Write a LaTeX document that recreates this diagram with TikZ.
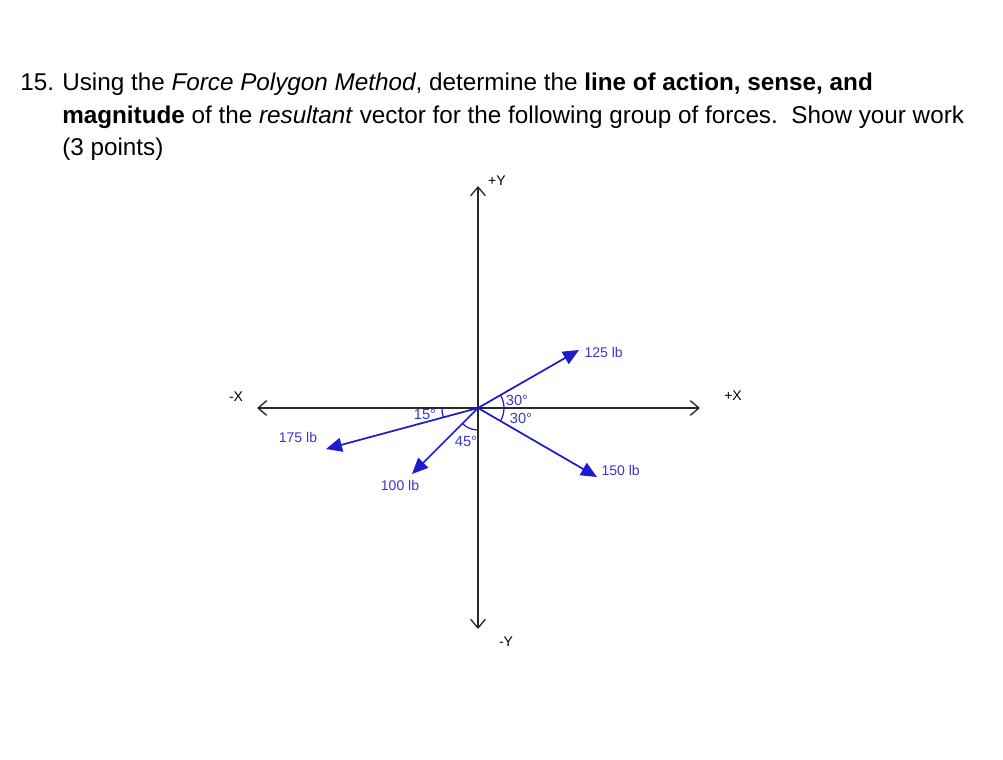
\documentclass[tikz,border=0pt]{standalone}
\usepackage{fontspec}
\setmainfont{Liberation Sans}
\usetikzlibrary{arrows.meta}
\definecolor{vecblue}{RGB}{28,28,205}
\definecolor{lblblue}{RGB}{55,55,200}
\definecolor{axisgray}{RGB}{40,40,40}
\tikzset{
  axisline/.style={draw=axisgray, line width=1.1pt, -{Straight Barb[length=6.5pt,width=11pt,line width=1pt]}},
  force/.style={draw=vecblue, line width=1.3pt, -{Triangle[length=12pt,width=10.5pt]}},
  anglearc/.style={draw=vecblue, line width=0.9pt},
  lbl/.style={text=lblblue, font=\fontsize{10.5pt}{12pt}\selectfont, inner sep=1pt},
  axlbl/.style={text=black, font=\fontsize{10.5pt}{12pt}\selectfont, inner sep=1pt},
  angl/.style={text=lblblue, font=\fontsize{11pt}{12pt}\selectfont, inner sep=0.5pt},
  title/.style={anchor=base west, inner sep=0pt, font=\fontsize{18.2pt}{22pt}\selectfont}
}
\begin{document}
\begin{tikzpicture}[x=0.75pt,y=-0.75pt]
\useasboundingbox (0,0) rectangle (1003,760);
% title
\node[title] (num) at (20,90) {15.};
\node[title] (l1) at (62,90) {Using the \textit{Force Polygon Method}, determine the \textbf{line of action, sense, and}};
\node[title] (l2) at (62,123) {\textbf{magnitude} of the \textit{resultant} vector for the following group of forces.\ \ Show your work};
\node[title] (l3) at (62,155) {(3 points)};
% axes
\coordinate (O) at (478,408);
\coordinate (xr) at (700,408);
\coordinate (xl) at (257,408);
\coordinate (yt) at (478,186);
\coordinate (yb) at (478,629);
\draw[axisline] (O) -- (xr);
\draw[axisline] (O) -- (xl);
\draw[axisline] (O) -- (yt);
\draw[axisline] (O) -- (yb);
\node[axlbl] (py) at (497,181) {+Y};
\node[axlbl] (my) at (506,642) {-Y};
\node[axlbl] (mx) at (236,397) {-X};
\node[axlbl] (px) at (733,396) {+X};
% forces
\coordinate (f125) at (579,350);
\coordinate (f150) at (597,477);
\coordinate (f175) at (326,449);
\coordinate (f100) at (412,474);
\draw[force] (O) -- (f125);
\draw[force] (O) -- (f150);
\draw[force] (O) -- (f175);
\draw[force] (O) -- (f100);
\node[lbl, anchor=west] (t125) at (583,352) {125 lb};
\node[lbl, anchor=west] (t150) at (600,470) {150 lb};
\node[lbl] (t175) at (298,437) {175 lb};
\node[lbl] (t100) at (400,485) {100 lb};
% angle arcs (y axis points down on screen: positive angles turn downward)
\draw[anglearc] ([shift={(0:26)}]O) arc[start angle=0, end angle=-30, radius=26];
\draw[anglearc] ([shift={(0:26)}]O) arc[start angle=0, end angle=30, radius=26];
\draw[anglearc] ([shift={(180:36)}]O) arc[start angle=180, end angle=165, radius=36];
\draw[anglearc] ([shift={(90:22)}]O) arc[start angle=90, end angle=135, radius=22];
\node[angl] (a30u) at (517,400) {30°};
\node[angl] (a30d) at (521,418) {30°};
\node[angl] (a15) at (425,414) {15°};
\node[angl] (a45) at (466,441) {45°};
\end{tikzpicture}
\end{document}
